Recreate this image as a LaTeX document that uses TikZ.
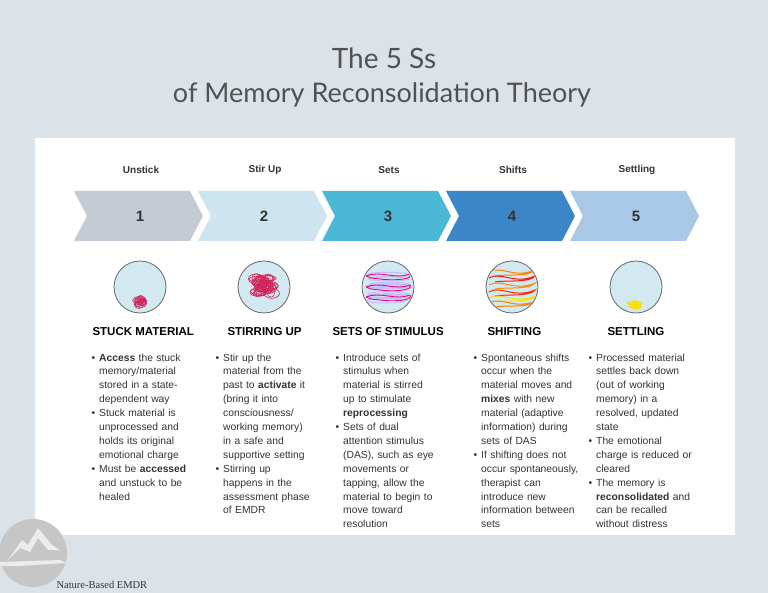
\documentclass[tikz,border=0pt]{standalone}
\usepackage{fontspec}
\setmainfont{Liberation Sans}
\newfontfamily\titlefont{Lato}
\newfontfamily\logofont{Liberation Serif}
\usepackage{enumitem}
\usetikzlibrary{positioning}
\definecolor{bgcol}{HTML}{DCE3E8}
\definecolor{txtcol}{HTML}{333333}
\definecolor{chA}{HTML}{C5CBD5}
\definecolor{chB}{HTML}{CDE5F0}
\definecolor{chC}{HTML}{4BB8D6}
\definecolor{chD}{HTML}{3A86C6}
\definecolor{chE}{HTML}{A9C8E6}
\definecolor{bubble}{HTML}{D3E9F2}
\definecolor{tangle}{HTML}{D0245A}
\tikzset{
  stage/.style={font=\bfseries\fontsize{10}{11}\selectfont, text=txtcol},
  num/.style={font=\bfseries\fontsize{15}{17}\selectfont, text=txtcol},
  head/.style={font=\bfseries\fontsize{11.5}{13}\selectfont, text=black},
  body/.style={anchor=north west, text width=124pt, inner sep=0pt, text=txtcol,
    font=\fontsize{10.3}{13.9}\selectfont, align=left},
  bubble/.style={draw=gray!80!black, line width=0.8pt, fill=bubble},
}
\setlist[itemize]{leftmargin=9pt, labelsep=4pt, itemsep=0pt, topsep=0pt, parsep=0pt, label=\textbullet}
\begin{document}
\begin{tikzpicture}[x=1pt,y=-1pt]
  \fill[bgcol] (0,0) rectangle (768,593);
  \useasboundingbox (0,0) rectangle (768,593);
  \fill[white] (35,138) rectangle (735,535);
  % title
  \node[font=\titlefont\fontsize{28}{32}\selectfont, text=txtcol!85] (title1) at (384,58) {The 5 Ss};
  \node[font=\titlefont\fontsize{27}{31}\selectfont, text=txtcol!85] (title2) at (382,95) {of Memory Reconsolidation Theory};
  % chevrons
  \foreach \x/\c/\n/\s [count=\i] in {74/chA/1/Unstick, 198/chB/2/Stir Up, 322/chC/3/Sets, 446/chD/4/Shifts, 570/chE/5/Settling}
  {
    \fill[\c] (\x,191) -- (\x+116,191) -- (\x+129,216) -- (\x+116,241) -- (\x,241) -- (\x+13,216) -- cycle;
    \node[num] (num\i) at (\x+66,216) {\n};
    \node[stage] (stage\i) at (\x+67,170) {\s};
    \draw[bubble] (\x+66,287) circle (26);
  }
  % bubble contents
  \begin{scope}
    \clip (140,287) circle (25);
    \foreach \k in {1,...,14}
      \draw[tangle, line width=0.6pt] (141+rand*3,302+rand*3) ellipse ({4+rand*2} and {3+rand*1.5});
  \end{scope}
  \begin{scope}
    \clip (264,287) circle (25);
    \foreach \k in {1,...,45}
      \draw[tangle, line width=0.6pt] (264+rand*9,286+rand*8) ellipse ({6+rand*3} and {4+rand*2});
  \end{scope}
  \begin{scope}
    \clip (388,287) circle (25);
    \foreach \k in {1,...,10}
      \draw[blue!25, line width=1pt] (388+rand*3,288+rand*14) ellipse (20 and 2);
    \foreach \yy in {276,287,297}
      \draw[magenta!80!red, line width=0.9pt] (366,\yy) .. controls (380,\yy-6) and (396,\yy+4) .. (410,\yy-2)
        .. controls (414,\yy+3) and (396,\yy+5) .. (380,\yy+3) .. controls (370,\yy+2) .. (366,\yy);
  \end{scope}
  \begin{scope}
    \clip (512,287) circle (25);
    \foreach \yy/\cc in {272/orange, 278/red!80!orange, 285/orange!90!yellow, 292/red!70!orange, 298/yellow!80!orange, 303/orange}
      \draw[\cc, line width=1pt] (489,\yy) .. controls (500,\yy-7) and (515,\yy+7) .. (535,\yy-2)
        .. controls (530,\yy+5) and (505,\yy+2) .. (495,\yy+4);
  \end{scope}
  \begin{scope}
    \clip (636,287) circle (25);
    \foreach \k in {1,...,10}
      \draw[yellow!80!orange, line width=0.8pt] (635+rand*4,305+rand*2) ellipse ({4+rand*1.5} and {2.5+rand});
  \end{scope}
  % headings
  \node[head, anchor=west] (head1) at (89,332) {STUCK MATERIAL};
  \node[head, anchor=west] (head2) at (224,332) {STIRRING UP};
  \node[head, anchor=west] (head3) at (329,332) {SETS OF STIMULUS};
  \node[head, anchor=west] (head4) at (484,332) {SHIFTING};
  \node[head, anchor=west] (head5) at (604,332) {SETTLING};
  % bullet columns
  \node[body] (text1) at (90,347) {\begin{itemize}
    \item \textbf{Access} the stuck\newline memory/material\newline stored in a state-\newline dependent way
    \item Stuck material is\newline unprocessed and\newline holds its original\newline emotional charge
    \item Must be \textbf{accessed}\newline and unstuck to be\newline healed
  \end{itemize}};
  \node[body] (text2) at (214,347) {\begin{itemize}
    \item Stir up the\newline material from the\newline past to \textbf{activate} it\newline (bring it into\newline consciousness/\newline working memory)\newline in a safe and\newline supportive setting
    \item Stirring up\newline happens in the\newline assessment phase\newline of EMDR
  \end{itemize}};
  \node[body] (text3) at (334,347) {\begin{itemize}
    \item Introduce sets of\newline stimulus when\newline material is stirred\newline up to stimulate\newline \textbf{reprocessing}
    \item Sets of dual\newline attention stimulus\newline (DAS), such as eye\newline movements or\newline tapping, allow the\newline material to begin to\newline move toward\newline resolution
  \end{itemize}};
  \node[body] (text4) at (472,347) {\begin{itemize}
    \item Spontaneous shifts\newline occur when the\newline material moves and\newline \textbf{mixes} with new\newline material (adaptive\newline information) during\newline sets of DAS
    \item If shifting does not\newline occur spontaneously,\newline therapist can\newline introduce new\newline information between\newline sets
  \end{itemize}};
  \node[body] (text5) at (587,347) {\begin{itemize}
    \item Processed material\newline settles back down\newline (out of working\newline memory) in a\newline resolved, updated\newline state
    \item The emotional\newline charge is reduced or\newline cleared
    \item The memory is\newline \textbf{reconsolidated} and\newline can be recalled\newline without distress
  \end{itemize}};
  % logo
  \begin{scope}
    \clip (0,510) rectangle (100,593);
    \fill[gray!45] (33,553) circle (34);
    \fill[white!85!gray] (8,560) -- (22,540) -- (28,545) -- (38,528) -- (52,545) -- (60,550) -- (48,550) -- (38,538) -- (30,552) -- (20,548) -- cycle;
    \fill[white!85!gray] (0,562) -- (60,560) -- (66,563) -- (20,566) -- (0,566) -- cycle;
  \end{scope}
  \node[font=\logofont\fontsize{10.5}{12}\selectfont, text=txtcol, anchor=west] (logo) at (53,585) {Nature-Based EMDR};
\end{tikzpicture}
\end{document}
